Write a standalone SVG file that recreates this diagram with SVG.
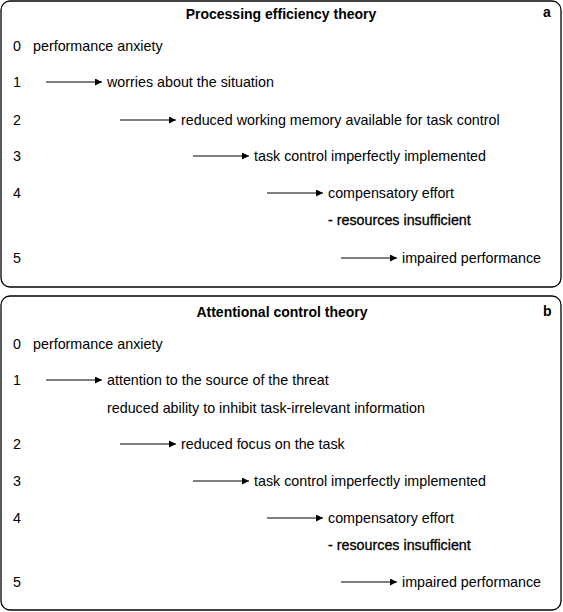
<svg xmlns="http://www.w3.org/2000/svg" width="563" height="612" viewBox="0 0 563 612">
<style>
text{font-family:"Liberation Sans",Arial,sans-serif;font-size:14.3px;fill:#000}
.t{font-weight:bold;text-anchor:middle;font-size:14px}
.l{font-weight:bold;font-size:14px}
.r{stroke:#000;stroke-width:0.3}
.box{fill:#fff;stroke:#000;stroke-width:1.3}
.arr{stroke:#000;stroke-width:1.2;fill:none;marker-end:url(#ah)}
</style>
<defs>
<marker id="ah" viewBox="0 0 10 10" refX="10" refY="5" markerWidth="11" markerHeight="7" markerUnits="userSpaceOnUse" orient="auto">
<path d="M0,0L10,5L0,10z" fill="#000"/>
</marker>
</defs>
<rect width="563" height="612" fill="#fff"/>
<g id="panel-a">
<rect class="box" x="1" y="1" width="560" height="286" rx="9"/>
<text class="t" x="281" y="19">Processing efficiency theory</text>
<text class="l" x="543" y="17">a</text>
<text x="13" y="51">0</text><text x="33" y="51">performance anxiety</text>
<text x="13" y="87">1</text><text x="107" y="87">worries about the situation</text>
<text x="13" y="125">2</text><text x="181" y="125">reduced working memory available for task control</text>
<text x="13" y="161">3</text><text x="254" y="161">task control imperfectly implemented</text>
<text x="13" y="198">4</text><text x="328" y="198">compensatory effort</text>
<text class="r" x="328" y="225">- resources insufficient</text>
<text x="13" y="263">5</text><text x="402" y="263">impaired performance</text>
</g>
<g id="panel-b">
<rect class="box" x="1" y="296" width="560" height="314" rx="9"/>
<text class="t" x="282" y="317">Attentional control theory</text>
<text class="l" x="543" y="316">b</text>
<text x="13" y="349">0</text><text x="33" y="349">performance anxiety</text>
<text x="13" y="385">1</text><text x="107" y="385">attention to the source of the threat</text>
<text x="107" y="413">reduced ability to inhibit task-irrelevant information</text>
<text x="13" y="449">2</text><text x="181" y="449">reduced focus on the task</text>
<text x="13" y="486">3</text><text x="254" y="486">task control imperfectly implemented</text>
<text x="13" y="523">4</text><text x="328" y="523">compensatory effort</text>
<text class="r" x="328" y="550">- resources insufficient</text>
<text x="13" y="587">5</text><text x="402" y="587">impaired performance</text>
</g>
<g id="connectors">
<line class="arr" x1="46" y1="82" x2="102" y2="82"/>
<line class="arr" x1="120" y1="120" x2="176" y2="120"/>
<line class="arr" x1="193" y1="156" x2="249" y2="156"/>
<line class="arr" x1="267" y1="193" x2="323" y2="193"/>
<line class="arr" x1="341" y1="258" x2="397" y2="258"/>
<line class="arr" x1="46" y1="380" x2="102" y2="380"/>
<line class="arr" x1="120" y1="444" x2="176" y2="444"/>
<line class="arr" x1="193" y1="481" x2="249" y2="481"/>
<line class="arr" x1="267" y1="518" x2="323" y2="518"/>
<line class="arr" x1="341" y1="582" x2="397" y2="582"/>
</g>
</svg>
